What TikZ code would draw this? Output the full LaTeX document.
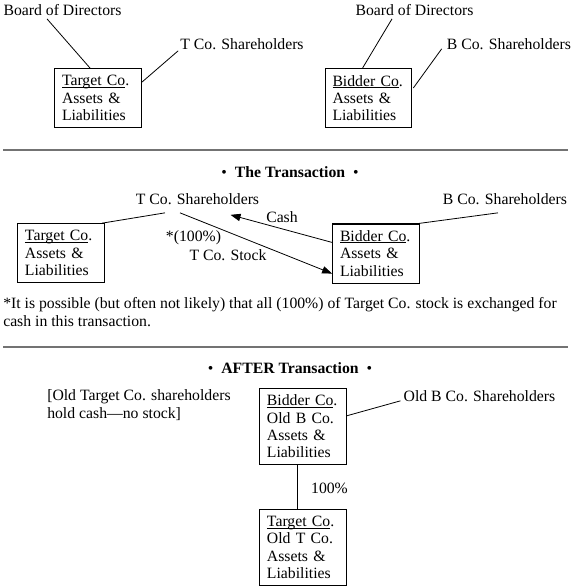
\documentclass[tikz,border=0pt]{standalone}
\usepackage{fontspec}
\setmainfont{Liberation Serif}
\usetikzlibrary{positioning,arrows.meta,calc}
\newcommand{\undl}[1]{\sbox0{#1}\rlap{\rule[-1.3pt]{\wd0}{0.6pt}}\usebox0}

\begin{document}
\begin{tikzpicture}[
    x=0.75pt, y=-0.75pt,
    txt/.style={inner sep=0pt, font=\fontsize{11.8}{13}\selectfont},
    firm/.style={draw, line width=0.8pt, align=left, text width=54pt, inner xsep=5.5pt, inner ysep=5pt, font=\fontsize{11.8}{13}\selectfont},
    lnk/.style={line width=0.6pt},
    arr/.style={-{Triangle[length=7.5pt, width=5.5pt]}, line width=0.6pt},
    rule/.style={draw=black!55, line width=1.1pt}
]
    \useasboundingbox (0,0) rectangle (571,587);

    \node[txt] (bodT) at (62.5,10) {Board of Directors};
    \node[txt] (shT) at (242,44) {T Co. Shareholders};
    \node[firm] (tgt1) at (98,98) {\undl{Target Co}.\\Assets \&\\Liabilities};
    \node[txt] (bodB) at (414.5,10) {Board of Directors};
    \node[txt] (shB) at (509,44) {B Co. Shareholders};
    \node[firm] (bid1) at (368.5,98) {\undl{Bidder Co}.\\Assets \&\\Liabilities};

    \draw[lnk] ($(bodT.south)+(-15.5,3)$) -- ($(tgt1.north west)+(36,0)$);
    \draw[lnk] ($(shT.south west)+(-2,1)$) -- ($(tgt1.north east)+(0,14)$);
    \draw[lnk] ($(bodB.south)+(-22.5,3)$) -- ($(bid1.north west)+(38,0)$);
    \draw[lnk] ($(shB.south west)+(-5,-1)$) -- ($(bid1.north east)+(1,20)$);

    \draw[rule] (3,150) -- (568,150);

    \node[txt] (ttl1) at (290,172) {\textbullet\ \ \textbf{The Transaction}\ \ \textbullet};
    \node[txt] (shT2) at (197.5,199) {T Co. Shareholders};
    \node[txt] (shB2) at (505,199) {B Co. Shareholders};
    \node[firm] (tgt2) at (61,253) {\undl{Target Co}.\\Assets \&\\Liabilities};
    \node[firm] (bid2) at (376,253.5) {\undl{Bidder Co}.\\Assets \&\\Liabilities};
    \node[txt] (cashL) at (282,217) {Cash};
    \node[txt] (pctL) at (193.5,238) {*(100\%)};
    \node[txt] (stockL) at (228,255) {T Co. Stock};

    \draw[lnk] ($(tgt2.north east)+(-3,0)$) -- ($(shT2.south)+(-32.5,8)$);
    \draw[lnk] ($(shB2.south)+(-7,8)$) -- ($(bid2.north east)+(-1,0)$);
    \draw[arr] ($(bid2.north west)+(0,19)$) -- ($(shT2.south)+(33,10)$);
    \draw[arr] ($(shT2.south)+(-17.5,8)$) -- ($(bid2.south west)+(0,-10)$);

    \node[txt, anchor=west, align=left] (note1) at (3,312) {*It is possible (but often not likely) that all (100\%) of Target Co. stock is exchanged for\\cash in this transaction.};

    \draw[rule] (3,347) -- (568,347);

    \node[txt] (ttl2) at (290,368) {\textbullet\ \ \textbf{AFTER Transaction}\ \ \textbullet};
    \node[txt, anchor=west, align=left] (note2) at (47,405) {[Old Target Co. shareholders\\hold cash---no stock]};
    \node[firm] (bid3) at (303,426.5) {\undl{Bidder Co}.\\Old B Co.\\Assets \&\\Liabilities};
    \node[txt] (shB3) at (479.5,396) {Old B Co. Shareholders};
    \node[firm] (tgt3) at (303,547.5) {\undl{Target Co}.\\Old T Co.\\Assets \&\\Liabilities};
    \node[txt] (pct3) at (329.5,488) {100\%};

    \draw[lnk] ($(bid3.north east)+(0,28)$) -- ($(shB3.south west)+(-3,-1)$);
    \draw[lnk] ($(bid3.south)+(-6,0)$) -- ($(tgt3.north)+(-6,0)$);
\end{tikzpicture}
\end{document}
